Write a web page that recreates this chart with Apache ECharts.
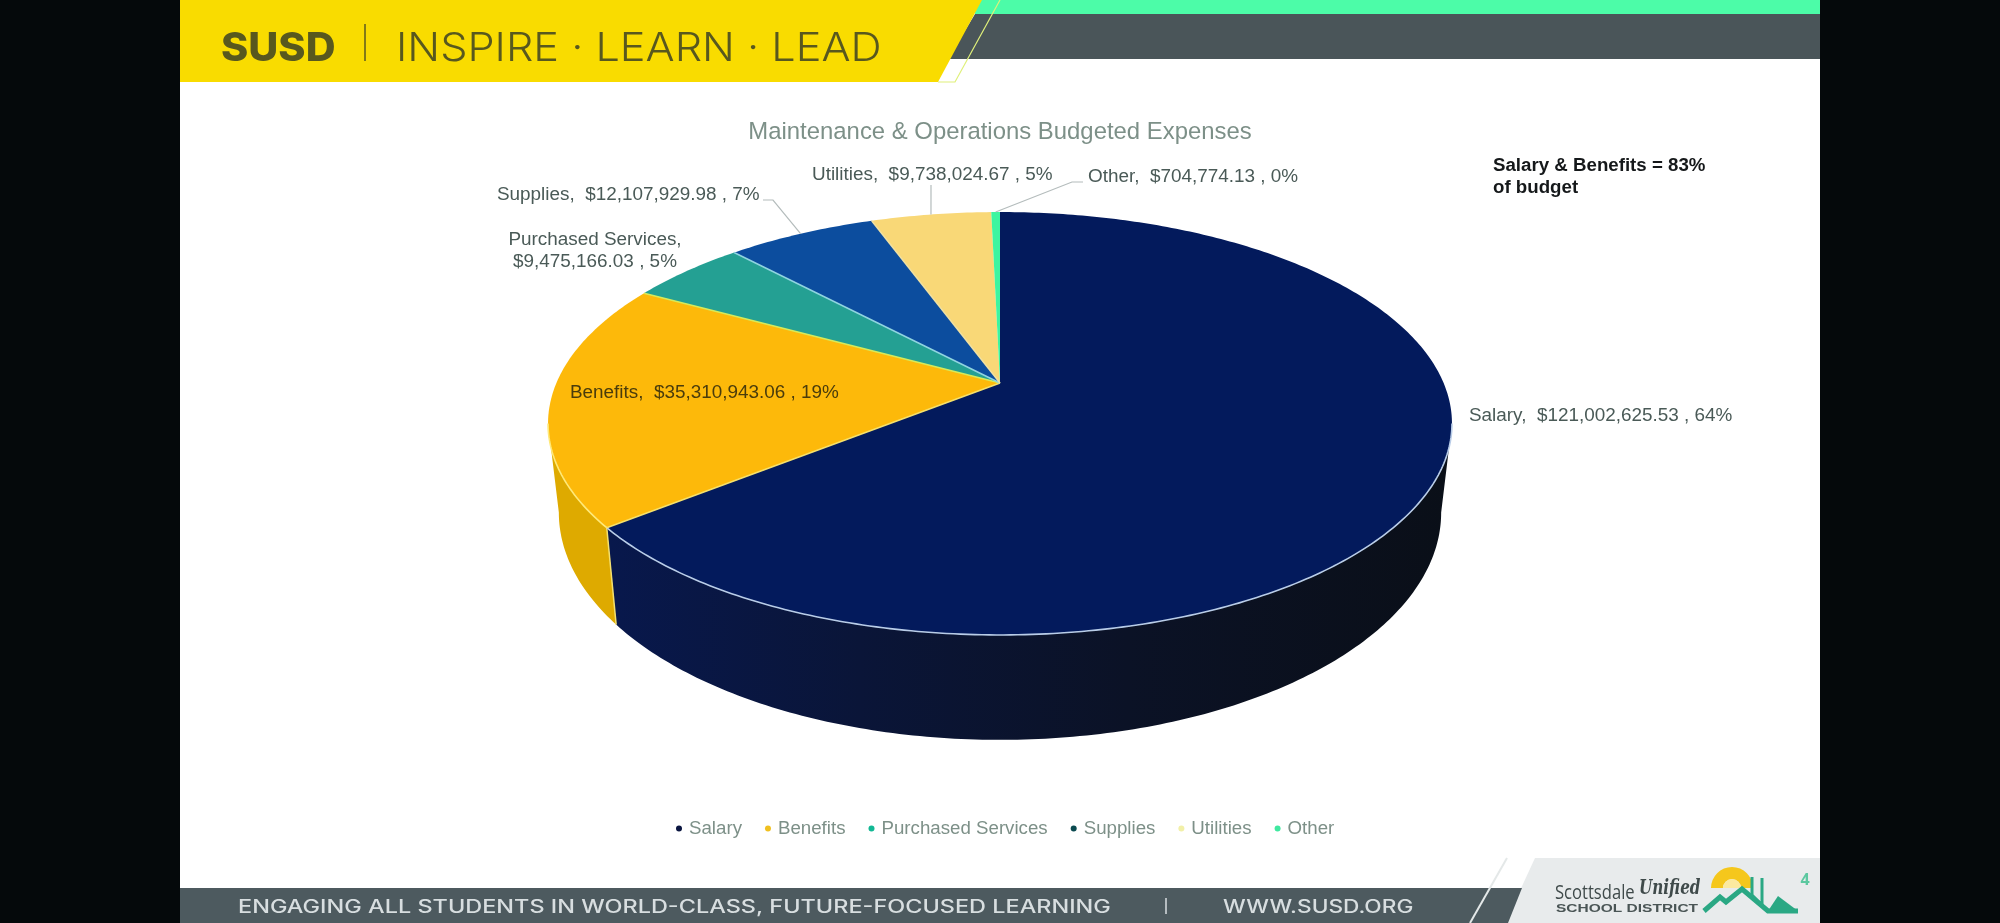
<!DOCTYPE html>
<html><head><meta charset="utf-8">
<style>html,body{margin:0;padding:0;background:#05090b}#c{width:2000px;height:923px}</style>
<script src="https://cdn.jsdelivr.net/npm/echarts@6/dist/echarts.min.js"></script>
</head><body><div id="c"></div>
<script>
// ---- data ----
const categories = ['Salary','Benefits','Purchased Services','Supplies','Utilities','Other'];
const amounts = [121002625.53,35310943.06,9475166.03,12107929.98,9738024.67,704774.13];
const percents = [64,19,5,7,5,0];
const chartTitle = 'Maintenance & Operations Budgeted Expenses';
const noteLines = ['Salary & Benefits = 83%','of budget'];

// ---- styles ----
const topColors = ['#031a5c','#fdb90a','#24a093','#0c4d9e','#f9d877','#3df5a0'];
const legendColors = ['#0a1540','#f0c020','#12b894','#0b4a50','#f2f0a8','#40e8a0'];
const separatorColors = [null,'#f6e06a','#d6ea5a','#8fd4e0','#f0e0a0',null];
const rimColors = ['#b9cde8','#ffe978','#b9cde8','#b9cde8','#b9cde8','#b9cde8'];
const labelSpots = [
  {x:1469,y:416,color:'#4a5a57'},
  {x:570,y:393,color:'#4a3c0c'},
  {x:595,y:251,align:'center',color:'#4a5a57',lines:true},
  {x:497,y:195,color:'#4a5a57',leader:[[763,200],[773,200]]},
  {x:812,y:175,color:'#4a5a57',leader:[[931,185],[931,190]]},
  {x:1088,y:177,color:'#4a5a57',leader:[[1083,182],[1072,182]]}
];

// projected disc geometry
const CX=1000, K=-0.1915;
const TOP={cy:383,a:203.7,b:443.6}, BOT={cy:469,a:219,b:433};
const total = amounts.reduce((s,v)=>s+v,0);
const startFrac = i => amounts.slice(0,i).reduce((s,v)=>s+v,0)/total;
function proj(disc,t){ // t: clockwise radians from 12 o'clock
  const x=Math.sin(t), y=-Math.cos(t), d=1+K*y;
  return [CX+disc.b*x/d, disc.cy+disc.a*y/d];
}
function arc(disc,t0,t1){
  const n=Math.max(2,Math.ceil(Math.abs(t1-t0)/(Math.PI/240))), p=[];
  for(let j=0;j<=n;j++) p.push(proj(disc,t0+(t1-t0)*j/n));
  return p;
}
const TAU=Math.PI*2, FRONT0=Math.acos(K), FRONT1=TAU-FRONT0; // silhouette angles
const money = v => '$'+v.toLocaleString('en-US',{minimumFractionDigits:2,maximumFractionDigits:2});
const labelText = i => {
  const a=categories[i]+',', b=money(amounts[i])+' , '+percents[i]+'%';
  return labelSpots[i].lines ? a+'\n'+b : a+'  '+b;
};

function wallItem(params){
  const i=params.dataIndex, t0=startFrac(i)*TAU, t1=startFrac(i+1)*TAU, kids=[];
  const r0=Math.max(t0,FRONT0), r1=Math.min(t1,FRONT1);
  if(r1>r0){
    const fill = i===0 ? new echarts.graphic.LinearGradient(610,0,1445,0,[
      {offset:0,color:'#08184c'},{offset:.3,color:'#0a1538'},{offset:.62,color:'#0b1226'},{offset:1,color:'#0a0f18'}],true)
      : (i===1 ? '#deaa00' : '#8a8f8f');
    kids.push({type:'polygon',shape:{points:arc(TOP,r0,r1).concat(arc(BOT,r0,r1).reverse())},style:{fill}});
  }
  if(i===1){
    const a=proj(TOP,t0), b=proj(BOT,t0);
    kids.push({type:'line',shape:{x1:a[0],y1:a[1],x2:b[0],y2:b[1]},style:{stroke:'#f3e070',lineWidth:1.5}});
  }
  return {type:'group',children:kids};
}
function topItem(i){
  return function(){
    const t0=startFrac(i)*TAU, t1=startFrac(i+1)*TAU, c=[CX,TOP.cy];
    const kids=[{type:'polygon',shape:{points:[c].concat(arc(TOP,t0,t1))},style:{fill:topColors[i]}}];
    const r0=Math.max(t0,FRONT0), r1=Math.min(t1,FRONT1);
    if(r1>r0) kids.push({type:'polyline',shape:{points:arc(TOP,r0,r1)},style:{fill:null,stroke:rimColors[i],lineWidth:1.6}});
    if(separatorColors[i]){
      const e=proj(TOP,t0);
      kids.push({type:'line',shape:{x1:c[0],y1:c[1],x2:e[0],y2:e[1]},style:{stroke:separatorColors[i],lineWidth:1.5}});
    }
    const s=labelSpots[i];
    if(s.leader){
      const end=proj(TOP,(t0+t1)/2);
      kids.push({type:'polyline',shape:{points:s.leader.concat([end])},style:{fill:null,stroke:'#b4bcbc',lineWidth:1.2}});
    }
    kids.push({type:'text',z2:20,style:{text:labelText(i),x:s.x,y:s.y,fill:s.color,
      font:'18.9px "Liberation Sans"',textAlign:s.align||'left',verticalAlign:'middle',lineHeight:22}});
    return {type:'group',children:kids};
  };
}

const txt=(text,x,y,font,fill,extra)=>Object.assign({type:'text',x,y,z:1,
  style:{text,font,fill,verticalAlign:'middle',textAlign:(extra&&extra.align)||'left'}},extra||{});
const poly=(points,fill,extra)=>Object.assign({type:'polygon',z:0,shape:{points},style:Object.assign({fill},extra||{})});
const deco=[
  {type:'rect',z:0,shape:{x:180,y:0,width:1640,height:923},style:{fill:'#ffffff'}},
  {type:'rect',z:0,shape:{x:975,y:0,width:845,height:14},style:{fill:'#4cfca8'}},
  poly([[975,14],[1820,14],[1820,59],[948,59]],'#4a5559'),
  poly([[180,0],[982,0],[938,82],[180,82]],'#f9dc00'),
  {type:'polyline',z:0,shape:{points:[[1000,0],[955,82],[938,82]]},style:{fill:null,stroke:'#dff07a',lineWidth:1.2}},
  {type:'line',z:0,shape:{x1:365,y1:24,x2:365,y2:61},style:{stroke:'#5a5a20',lineWidth:1.5}},
  txt('SUSD',221,49,'800 39px Inter','#58581e',{scaleX:1.06}),
  txt('INSPIRE · LEARN · LEAD',396,49,'300 40px Inter','#58581e',{scaleX:1.08}),
  txt(noteLines[0],1493,166,'bold 18.7px "Liberation Sans"','#15181a'),
  txt(noteLines[1],1493,188,'bold 18.7px "Liberation Sans"','#15181a'),
  // footer
  poly([[1535,858],[1820,858],[1820,923],[1505,923]],'#e8ebec'),
  poly([[180,888],[1522,888],[1508,923],[180,923]],'#4d5a5f'),
  {type:'line',z:0,shape:{x1:1507,y1:858,x2:1470,y2:923},style:{stroke:'#e4e8e8',lineWidth:2}},
  txt('ENGAGING ALL STUDENTS IN WORLD-CLASS, FUTURE-FOCUSED LEARNING',238,908,'500 18px Inter','#d8dee0',{scaleX:1.303}),
  {type:'line',z:1,shape:{x1:1166,y1:898,x2:1166,y2:914},style:{stroke:'#d8dee0',lineWidth:1.5}},
  txt('WWW.SUSD.ORG',1223,908,'500 18px Inter','#d8dee0',{scaleX:1.26}),
  // logo
  {type:'sector',z:0,shape:{cx:1732,cy:888,r:21,r0:9,startAngle:Math.PI,endAngle:TAU},style:{fill:'#f5c71c'}},
  {type:'sector',z:0,shape:{cx:1732,cy:888,r:9,startAngle:Math.PI,endAngle:TAU},style:{fill:'#fbe9a0'}},
  {type:'polyline',z:1,shape:{points:[[1704,911],[1720,897],[1726,902],[1742,889],[1768,911],[1798,911]]},style:{fill:null,stroke:'#2aa884',lineWidth:5}},
  {type:'polyline',z:1,shape:{points:[[1752,877],[1752,895],[1762,905],[1762,878]]},style:{fill:null,stroke:'#2aa884',lineWidth:3}},
  poly([[1768,911],[1778,896],[1798,911]],'#2aa884'),
  txt('Scottsdale',1555,893,'20px "Open Sans"','#3f4a4a',{scaleX:.83}),
  txt('Unified',1639,889,'italic bold 20px "DejaVu Serif"','#3f4a4a',{scaleX:.76}),
  txt('SCHOOL DISTRICT',1556,909,'bold 10px "Liberation Sans"','#4a5555',{scaleX:1.55}),
  txt('4',1805,880,'bold 16px "Open Sans"','#5cc8a0',{align:'center'})
];

const chart=echarts.init(document.getElementById('c'),null,{renderer:'canvas'});
const series=[{name:'Walls',type:'custom',coordinateSystem:'none',silent:true,z:2,animation:false,
  data:amounts,renderItem:wallItem}];
categories.forEach((name,i)=>series.push({name,type:'custom',coordinateSystem:'none',silent:true,z:3,animation:false,
  itemStyle:{color:topColors[i]},data:[amounts[i]],renderItem:topItem(i)}));
chart.setOption({
  animation:false,backgroundColor:'#05090b',
  title:{text:chartTitle,left:'center',top:115,textStyle:{color:'#7d9088',fontFamily:'Liberation Sans',fontSize:23.9,fontWeight:'normal'}},
  legend:{left:671,top:814,icon:'circle',itemWidth:6,itemHeight:6,itemGap:23,selectedMode:false,
    textStyle:{color:'#7d9088',fontFamily:'Liberation Sans',fontSize:18.7,padding:[0,0,0,2]},
    data:categories.map((name,i)=>({name,itemStyle:{color:legendColors[i]}}))},
  graphic:{elements:deco},
  series
});
</script></body></html>
